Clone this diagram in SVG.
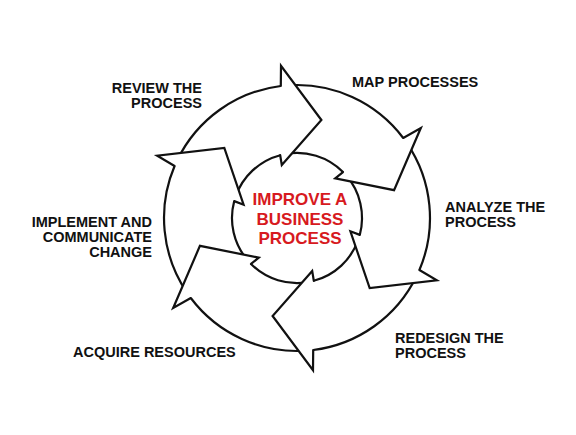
<svg xmlns="http://www.w3.org/2000/svg" xmlns:xlink="http://www.w3.org/1999/xlink" width="576" height="435" viewBox="0 0 576 435">
<style>
.lb{font-family:"Liberation Sans",Arial,sans-serif;font-weight:bold;font-size:14.5px;fill:#111;text-transform:uppercase}
.ct{font-family:"Liberation Sans",Arial,sans-serif;font-weight:bold;font-size:17px;fill:#d71920;text-anchor:middle;text-transform:uppercase}
.end{text-anchor:end}
</style>
<defs>
<g id="body" fill="none" stroke="#111" stroke-width="2.2" stroke-linecap="round">
<path d="M177.5,159.7 A133,133 0 0 1 280.8,86.0"/>
<path d="M235.5,196.8 A65,65 0 0 1 280.2,155.2"/>
</g>
<path id="head" fill="#fff" stroke="#111" stroke-width="2.2" stroke-linejoin="miter" stroke-miterlimit="10" stroke-linecap="round" d="M280.8,86.0 L281.0,65.8 L321.4,120.0 L281.8,165.1 L280.2,155.2"/>
</defs>
<rect width="576" height="435" fill="#fff"/>
<g id="connectors">
<use xlink:href="#body" href="#body"/>
<use xlink:href="#body" href="#body" transform="rotate(60 297 218)"/>
<use xlink:href="#body" href="#body" transform="rotate(120 297 218)"/>
<use xlink:href="#body" href="#body" transform="rotate(180 297 218)"/>
<use xlink:href="#body" href="#body" transform="rotate(240 297 218)"/>
<use xlink:href="#body" href="#body" transform="rotate(300 297 218)"/>
<use xlink:href="#head" href="#head"/>
<use xlink:href="#head" href="#head" transform="rotate(60 297 218)"/>
<use xlink:href="#head" href="#head" transform="rotate(120 297 218)"/>
<use xlink:href="#head" href="#head" transform="rotate(180 297 218)"/>
<use xlink:href="#head" href="#head" transform="rotate(240 297 218)"/>
<use xlink:href="#head" href="#head" transform="rotate(300 297 218)"/>
</g>
<g id="center" class="ct">
<text x="300" y="205">improve a</text>
<text x="300" y="225">Business</text>
<text x="300" y="244">Process</text>
</g>
<g id="review" class="lb end">
<text x="202" y="93">Review the</text>
<text x="202" y="108">Process</text>
</g>
<g id="map" class="lb">
<text x="352" y="87">Map Processes</text>
</g>
<g id="analyze" class="lb">
<text x="445" y="212">Analyze the</text>
<text x="445" y="227">Process</text>
</g>
<g id="redesign" class="lb">
<text x="395" y="343">Redesign the</text>
<text x="395" y="358">Process</text>
</g>
<g id="acquire" class="lb">
<text x="73" y="357">Acquire Resources</text>
</g>
<g id="implement" class="lb end">
<text x="152" y="227">Implement and</text>
<text x="152" y="242">Communicate</text>
<text x="152" y="257">Change</text>
</g>
</svg>
